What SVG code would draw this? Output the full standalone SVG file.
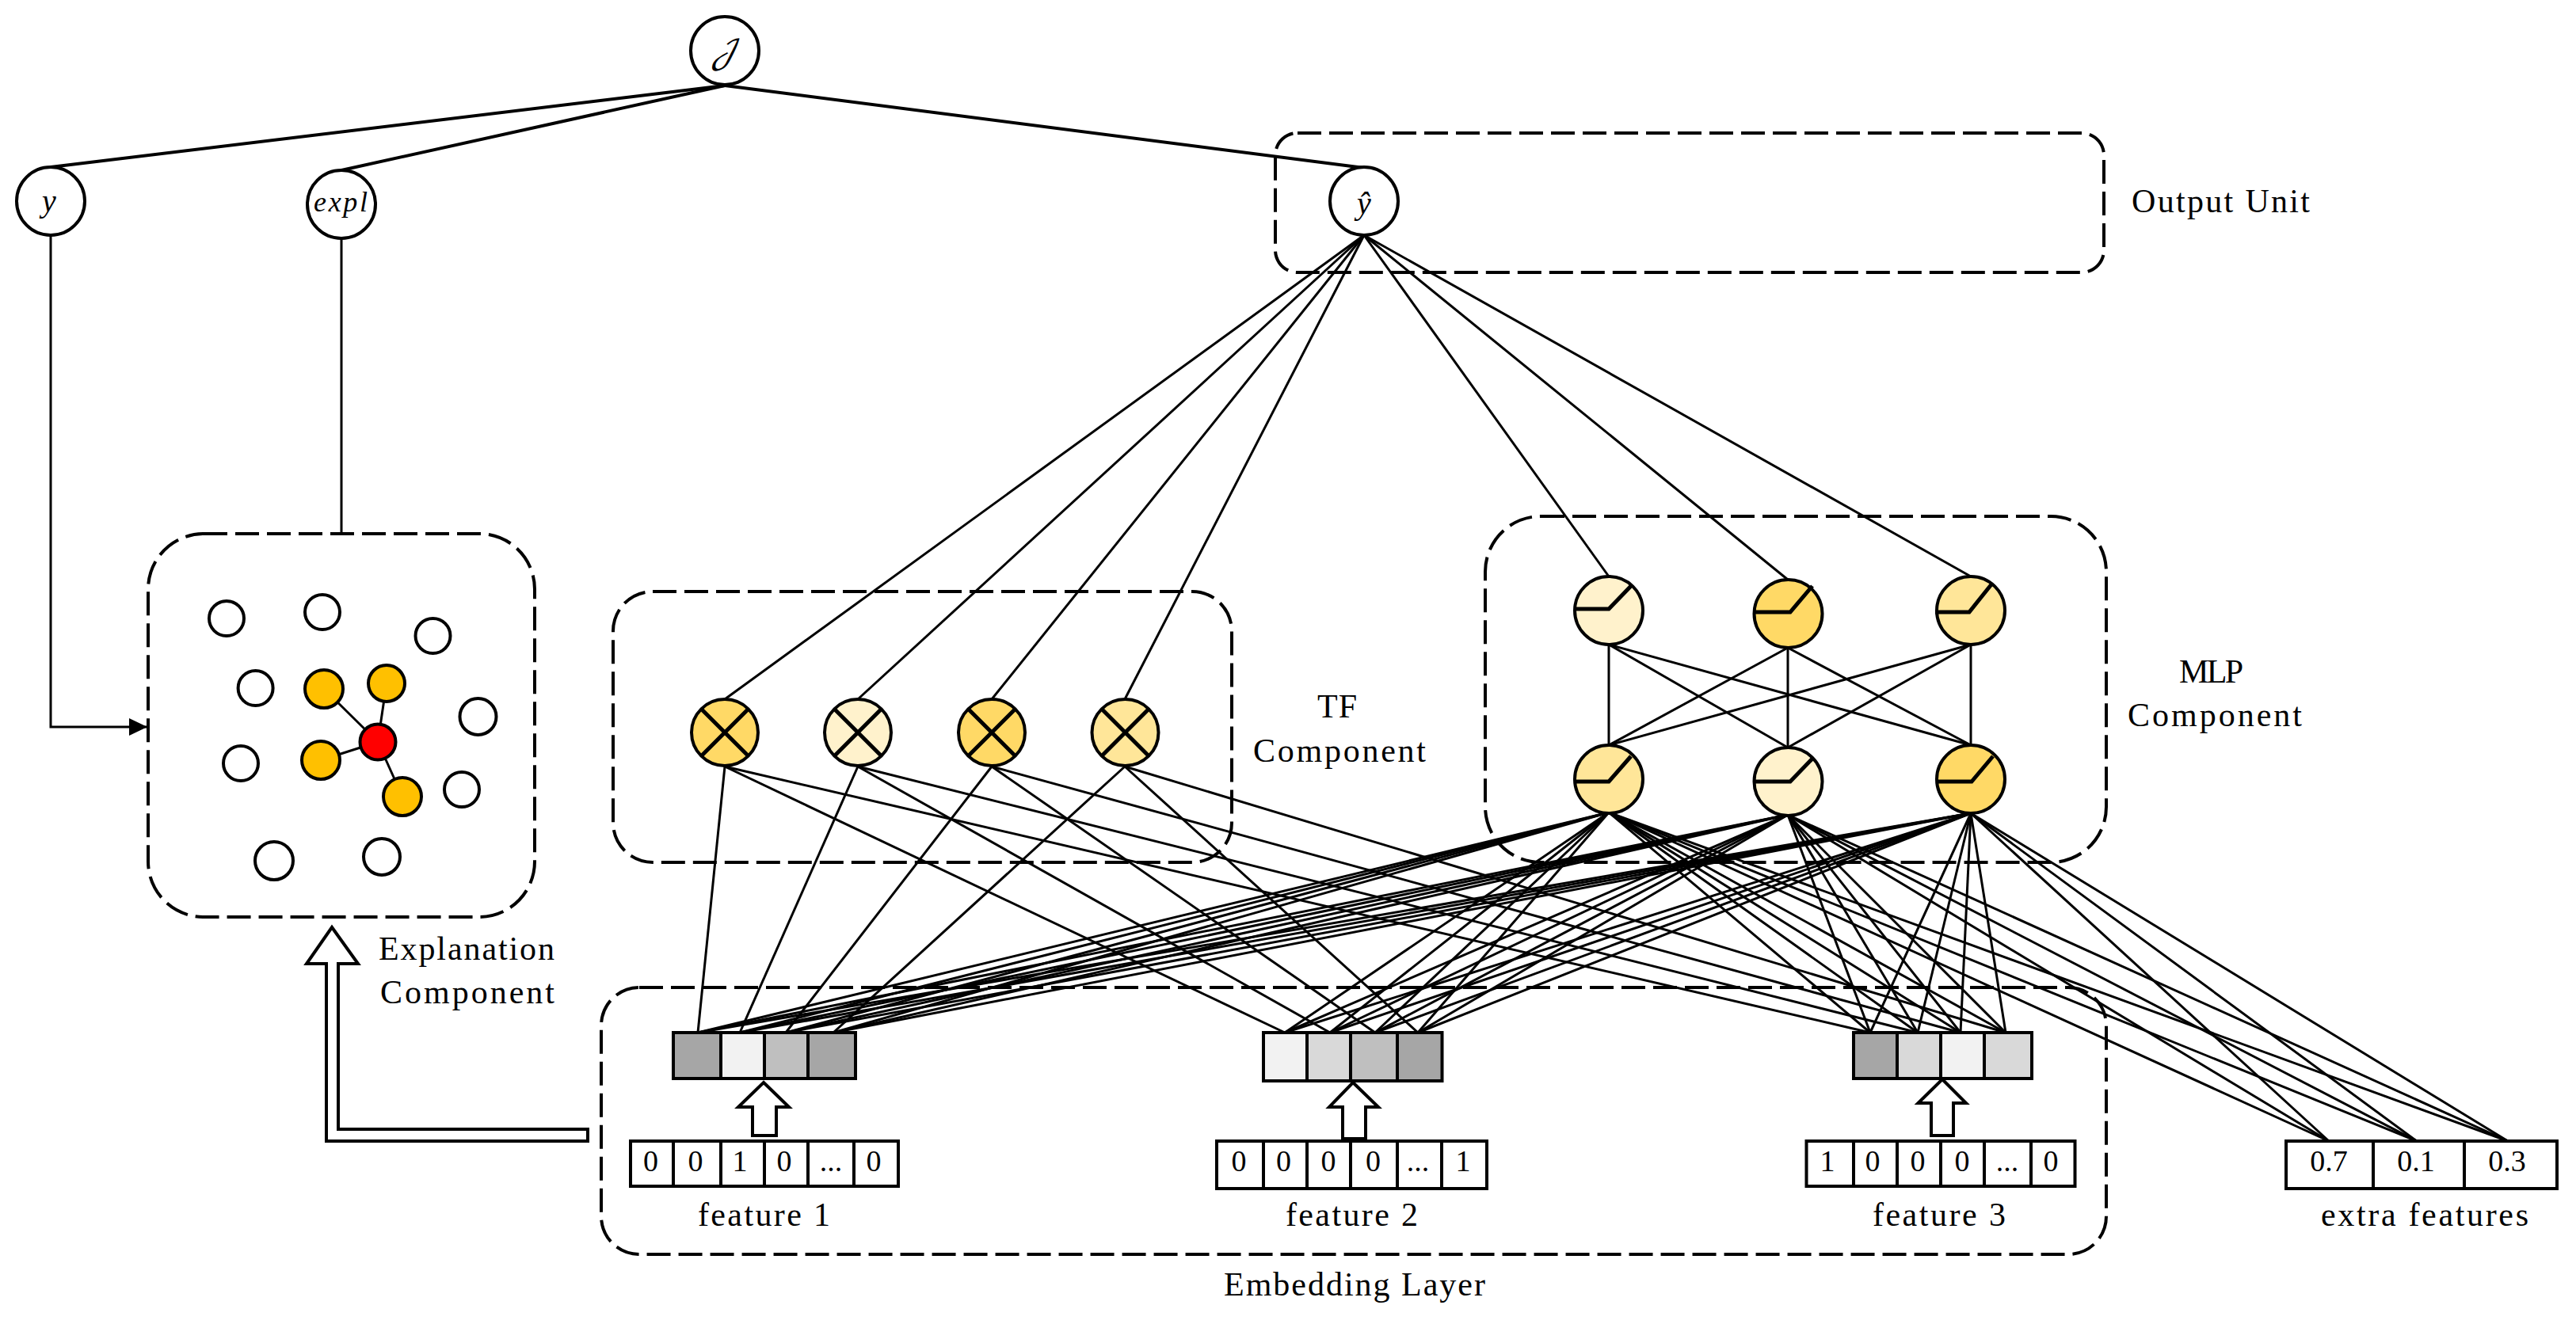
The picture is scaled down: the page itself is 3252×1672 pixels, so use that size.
<svg xmlns="http://www.w3.org/2000/svg" width="3252" height="1672" viewBox="0 0 3252 1672">
<defs>
<marker id="tri" markerUnits="userSpaceOnUse" markerWidth="24" markerHeight="24" refX="23" refY="12" orient="auto"><path d="M0,1 L23,12 L0,23 Z" fill="#000"/></marker>
</defs>
<style>
.box{fill:none;stroke:#000;stroke-width:4;stroke-dasharray:30 10}
.c line,.c path{stroke:#000;stroke-width:3;fill:none}
.c .th{stroke-width:4}
.n{stroke:#000;stroke-width:4;fill:#fff}
.g1{fill:#FFD966}.g2{fill:#FFE699}.g3{fill:#FFF2CC}
.org{fill:#FFC000}.red{fill:#FF0000}
.glyph{stroke:#000;stroke-width:5;fill:none}
.cell{stroke:#000;stroke-width:4;fill:#fff}
.g-a{fill:#A6A6A6}.g-b{fill:#BFBFBF}.g-d{fill:#D9D9D9}.g-f{fill:#F2F2F2}
.block{stroke:#000;stroke-width:4;fill:#fff}
text{font-family:"Liberation Serif","DejaVu Serif",serif;fill:#000}
.lb{font-size:42px}
.dg{font-size:38px;text-anchor:middle}
.m{font-size:40px;font-style:italic;text-anchor:middle}
</style>
<g id="dashed-boxes">
<rect id="output-unit-box" class="box" x="1610" y="168" width="1046" height="176" rx="28"/>
<rect id="explanation-box" class="box" x="187" y="674" width="488" height="484" rx="70"/>
<rect id="tf-box" class="box" x="774" y="747" width="781" height="342" rx="50"/>
<rect id="mlp-box" class="box" x="1875" y="652" width="784" height="437" rx="70"/>
<rect id="embedding-box" class="box" x="759" y="1247" width="1900" height="337" rx="48"/>
</g>
<g id="connectors" class="c">
<line class="th" x1="915" y1="108" x2="64" y2="211"/>
<line class="th" x1="915" y1="108" x2="431" y2="215"/>
<line class="th" x1="915" y1="108" x2="1722" y2="212"/>
<path d="M64,297 V918 H186" marker-end="url(#tri)"/>
<line x1="431" y1="301" x2="431" y2="674"/>
<line x1="1722" y1="297" x2="915" y2="883"/>
<line x1="1722" y1="297" x2="1083" y2="883"/>
<line x1="1722" y1="297" x2="1252" y2="883"/>
<line x1="1722" y1="297" x2="1420" y2="883"/>
<line x1="1722" y1="297" x2="2031" y2="728"/>
<line x1="1722" y1="297" x2="2257" y2="732"/>
<line x1="1722" y1="297" x2="2488" y2="728"/>
<line x1="2031" y1="814" x2="2031" y2="941"/>
<line x1="2031" y1="814" x2="2257" y2="944"/>
<line x1="2031" y1="814" x2="2488" y2="941"/>
<line x1="2257" y1="818" x2="2031" y2="941"/>
<line x1="2257" y1="818" x2="2257" y2="944"/>
<line x1="2257" y1="818" x2="2488" y2="941"/>
<line x1="2488" y1="814" x2="2031" y2="941"/>
<line x1="2488" y1="814" x2="2257" y2="944"/>
<line x1="2488" y1="814" x2="2488" y2="941"/>
<line x1="915" y1="968" x2="881" y2="1304"/>
<line x1="915" y1="968" x2="1622" y2="1304"/>
<line x1="915" y1="968" x2="2361" y2="1304"/>
<line x1="1083" y1="968" x2="934" y2="1304"/>
<line x1="1083" y1="968" x2="1679" y2="1304"/>
<line x1="1083" y1="968" x2="2421" y2="1304"/>
<line x1="1252" y1="968" x2="992" y2="1304"/>
<line x1="1252" y1="968" x2="1736" y2="1304"/>
<line x1="1252" y1="968" x2="2475" y2="1304"/>
<line x1="1420" y1="968" x2="1052" y2="1304"/>
<line x1="1420" y1="968" x2="1790" y2="1304"/>
<line x1="1420" y1="968" x2="2532" y2="1304"/>
<line x1="2031" y1="1026" x2="881" y2="1304"/>
<line x1="2031" y1="1026" x2="934" y2="1304"/>
<line x1="2031" y1="1026" x2="992" y2="1304"/>
<line x1="2031" y1="1026" x2="1052" y2="1304"/>
<line x1="2031" y1="1026" x2="1622" y2="1304"/>
<line x1="2031" y1="1026" x2="1679" y2="1304"/>
<line x1="2031" y1="1026" x2="1736" y2="1304"/>
<line x1="2031" y1="1026" x2="1790" y2="1304"/>
<line x1="2031" y1="1026" x2="2361" y2="1304"/>
<line x1="2031" y1="1026" x2="2421" y2="1304"/>
<line x1="2031" y1="1026" x2="2475" y2="1304"/>
<line x1="2031" y1="1026" x2="2532" y2="1304"/>
<line x1="2031" y1="1026" x2="2940" y2="1441"/>
<line x1="2031" y1="1026" x2="3051" y2="1441"/>
<line x1="2031" y1="1026" x2="3166" y2="1441"/>
<line x1="2257" y1="1029" x2="881" y2="1304"/>
<line x1="2257" y1="1029" x2="934" y2="1304"/>
<line x1="2257" y1="1029" x2="992" y2="1304"/>
<line x1="2257" y1="1029" x2="1052" y2="1304"/>
<line x1="2257" y1="1029" x2="1622" y2="1304"/>
<line x1="2257" y1="1029" x2="1679" y2="1304"/>
<line x1="2257" y1="1029" x2="1736" y2="1304"/>
<line x1="2257" y1="1029" x2="1790" y2="1304"/>
<line x1="2257" y1="1029" x2="2361" y2="1304"/>
<line x1="2257" y1="1029" x2="2421" y2="1304"/>
<line x1="2257" y1="1029" x2="2475" y2="1304"/>
<line x1="2257" y1="1029" x2="2532" y2="1304"/>
<line x1="2257" y1="1029" x2="2940" y2="1441"/>
<line x1="2257" y1="1029" x2="3051" y2="1441"/>
<line x1="2257" y1="1029" x2="3166" y2="1441"/>
<line x1="2488" y1="1027" x2="881" y2="1304"/>
<line x1="2488" y1="1027" x2="934" y2="1304"/>
<line x1="2488" y1="1027" x2="992" y2="1304"/>
<line x1="2488" y1="1027" x2="1052" y2="1304"/>
<line x1="2488" y1="1027" x2="1622" y2="1304"/>
<line x1="2488" y1="1027" x2="1679" y2="1304"/>
<line x1="2488" y1="1027" x2="1736" y2="1304"/>
<line x1="2488" y1="1027" x2="1790" y2="1304"/>
<line x1="2488" y1="1027" x2="2361" y2="1304"/>
<line x1="2488" y1="1027" x2="2421" y2="1304"/>
<line x1="2488" y1="1027" x2="2475" y2="1304"/>
<line x1="2488" y1="1027" x2="2532" y2="1304"/>
<line x1="2488" y1="1027" x2="2940" y2="1441"/>
<line x1="2488" y1="1027" x2="3051" y2="1441"/>
<line x1="2488" y1="1027" x2="3166" y2="1441"/>
<line x1="409" y1="870" x2="477" y2="937"/>
<line x1="488" y1="863" x2="477" y2="937"/>
<line x1="405" y1="960" x2="477" y2="937"/>
<line x1="508" y1="1006" x2="477" y2="937"/>
</g>
<g id="node-J"><circle class="n" cx="915" cy="64" r="43"/><text class="m" x="913" y="79" style="font-family:'DejaVu Math TeX Gyre','Liberation Serif',serif">𝒥</text></g>
<g id="node-y"><circle class="n" cx="64" cy="254" r="43"/><text class="m" x="62" y="267">y</text></g>
<g id="node-expl"><circle class="n" cx="431" cy="258" r="43"/><text class="m" x="430" y="267" style="font-size:36px" textLength="68" lengthAdjust="spacing">expl</text></g>
<g id="node-yhat"><circle class="n" cx="1722" cy="254" r="43"/><text class="m" x="1722" y="270">ŷ</text></g>
<g id="graph-nodes">
<circle class="n" cx="286" cy="781" r="22"/>
<circle class="n" cx="407" cy="773" r="22"/>
<circle class="n" cx="546.5" cy="803" r="22"/>
<circle class="n" cx="322.6" cy="869" r="22"/>
<circle class="n" cx="603.5" cy="905" r="23"/>
<circle class="n" cx="304" cy="964" r="22"/>
<circle class="n" cx="583" cy="997" r="22"/>
<circle class="n" cx="346" cy="1087" r="24"/>
<circle class="n" cx="482" cy="1082" r="23"/>
<circle class="n org" cx="409" cy="870" r="24"/>
<circle class="n org" cx="488" cy="863" r="23"/>
<circle class="n org" cx="405" cy="960" r="24"/>
<circle class="n org" cx="508" cy="1006" r="24"/>
<circle class="n red" cx="477" cy="937" r="22.5"/>
</g>
<g id="tf-1"><circle class="n g1" cx="915" cy="925" r="42"/><path class="glyph" d="M885,895 L945,955 M945,895 L885,955"/></g>
<g id="tf-2"><circle class="n g3" cx="1083" cy="925" r="42"/><path class="glyph" d="M1053,895 L1113,955 M1113,895 L1053,955"/></g>
<g id="tf-3"><circle class="n g1" cx="1252" cy="925" r="42"/><path class="glyph" d="M1222,895 L1282,955 M1282,895 L1222,955"/></g>
<g id="tf-4"><circle class="n g2" cx="1420.500" cy="925" r="42"/><path class="glyph" d="M1390.500,895 L1450.500,955 M1450.500,895 L1390.500,955"/></g>
<g id="mlp-top-1"><circle class="n g3" cx="2031" cy="771" r="43"/><path class="glyph" d="M1989,769 H2031 L2059,740"/></g>
<g id="mlp-top-2"><circle class="n g1" cx="2257.500" cy="775" r="43"/><path class="glyph" d="M2215,773 H2260 L2288,740"/></g>
<g id="mlp-top-3"><circle class="n g2" cx="2488" cy="771" r="43"/><path class="glyph" d="M2443,773 H2486 L2514,738"/></g>
<g id="mlp-bot-1"><circle class="n g2" cx="2031" cy="984" r="43"/><path class="glyph" d="M1989,987 H2031 L2059,955"/></g>
<g id="mlp-bot-2"><circle class="n g3" cx="2257.500" cy="987" r="43"/><path class="glyph" d="M2215,987 H2260 L2288,958"/></g>
<g id="mlp-bot-3"><circle class="n g1" cx="2488" cy="984" r="43"/><path class="glyph" d="M2446,987 H2489 L2516,955"/></g>
<g id="embedding-1">
<rect class="cell g-a" x="850" y="1304" width="60" height="58"/><rect class="cell g-f" x="910" y="1304" width="55" height="58"/><rect class="cell g-b" x="965" y="1304" width="55" height="58"/><rect class="cell g-a" x="1020" y="1304" width="60" height="58"/>
</g>
<g id="embedding-2">
<rect class="cell g-f" x="1595" y="1304" width="55" height="61"/><rect class="cell g-d" x="1650" y="1304" width="55" height="61"/><rect class="cell g-b" x="1705" y="1304" width="59" height="61"/><rect class="cell g-a" x="1764" y="1304" width="56.500" height="61"/>
</g>
<g id="embedding-3">
<rect class="cell g-a" x="2340" y="1304" width="55" height="58"/><rect class="cell g-d" x="2395" y="1304" width="55" height="58"/><rect class="cell g-f" x="2450" y="1304" width="55" height="58"/><rect class="cell g-d" x="2505" y="1304" width="60" height="58"/>
</g>
<g id="feature-1">
<rect class="cell" x="796" y="1441" width="54" height="57"/><rect class="cell" x="850" y="1441" width="60" height="57"/><rect class="cell" x="910" y="1441" width="55" height="57"/><rect class="cell" x="965" y="1441" width="55" height="57"/><rect class="cell" x="1020" y="1441" width="58" height="57"/><rect class="cell" x="1078" y="1441" width="56" height="57"/>
<text class="dg" x="821.500" y="1479">0</text><text class="dg" x="878" y="1479">0</text><text class="dg" x="934" y="1479">1</text><text class="dg" x="990" y="1479">0</text><text class="dg" x="1049" y="1479">...</text><text class="dg" x="1103" y="1479">0</text>
<text class="lb" x="881" y="1548" textLength="167" lengthAdjust="spacing">feature 1</text>
</g>
<g id="feature-2">
<rect class="cell" x="1536" y="1441" width="59" height="60"/><rect class="cell" x="1595" y="1441" width="55" height="60"/><rect class="cell" x="1650" y="1441" width="55" height="60"/><rect class="cell" x="1705" y="1441" width="59" height="60"/><rect class="cell" x="1764" y="1441" width="56" height="60"/><rect class="cell" x="1820" y="1441" width="57" height="60"/>
<text class="dg" x="1564" y="1479">0</text><text class="dg" x="1620.600" y="1479">0</text><text class="dg" x="1677" y="1479">0</text><text class="dg" x="1733.500" y="1479">0</text><text class="dg" x="1790" y="1479">...</text><text class="dg" x="1847" y="1479">1</text>
<text class="lb" x="1623" y="1548" textLength="167" lengthAdjust="spacing">feature 2</text>
</g>
<g id="feature-3">
<rect class="cell" x="2280.500" y="1441" width="59.500" height="57"/><rect class="cell" x="2340" y="1441" width="55" height="57"/><rect class="cell" x="2395" y="1441" width="55" height="57"/><rect class="cell" x="2450" y="1441" width="55" height="57"/><rect class="cell" x="2505" y="1441" width="59" height="57"/><rect class="cell" x="2564" y="1441" width="55.500" height="57"/>
<text class="dg" x="2307" y="1479">1</text><text class="dg" x="2364" y="1479">0</text><text class="dg" x="2421" y="1479">0</text><text class="dg" x="2477" y="1479">0</text><text class="dg" x="2534" y="1479">...</text><text class="dg" x="2589" y="1479">0</text>
<text class="lb" x="2364" y="1548" textLength="168" lengthAdjust="spacing">feature 3</text>
</g>
<g id="extra-features">
<rect class="cell" x="2886" y="1441" width="110" height="60"/><rect class="cell" x="2996" y="1441" width="115" height="60"/><rect class="cell" x="3111" y="1441" width="117" height="60"/>
<text class="dg" x="2940" y="1479">0.7</text><text class="dg" x="3050" y="1479">0.1</text><text class="dg" x="3165" y="1479">0.3</text>
<text class="lb" x="2930" y="1548" textLength="262" lengthAdjust="spacing">extra features</text>
</g>
<g id="block-arrows">
<path class="block" d="M964,1367 L996,1398 H980 V1434 H950 V1398 H932 Z"/>
<path class="block" d="M1708,1367 L1740,1398 H1724 V1438 H1695 V1398 H1678 Z"/>
<path class="block" d="M2452,1363 L2482,1393 H2466 V1434 H2438 V1393 H2421.500 Z"/>
<path class="block" d="M419,1171 L452,1217 H427 V1426 H742 V1441 H412 V1217 H387 Z"/>
</g>
<g id="labels">
<text class="lb" x="478" y="1212" textLength="222" lengthAdjust="spacing">Explanation</text>
<text class="lb" x="480" y="1267" textLength="220" lengthAdjust="spacing">Component</text>
<text class="lb" x="2691" y="268" textLength="225" lengthAdjust="spacing">Output Unit</text>
<text class="lb" x="1663" y="906" textLength="50" lengthAdjust="spacing">TF</text>
<text class="lb" x="1582" y="962" textLength="218" lengthAdjust="spacing">Component</text>
<text class="lb" x="2751" y="862" textLength="81" lengthAdjust="spacing">MLP</text>
<text class="lb" x="2686" y="917" textLength="220" lengthAdjust="spacing">Component</text>
<text class="lb" x="1545" y="1636" textLength="330" lengthAdjust="spacing">Embedding Layer</text>
</g>
</svg>
